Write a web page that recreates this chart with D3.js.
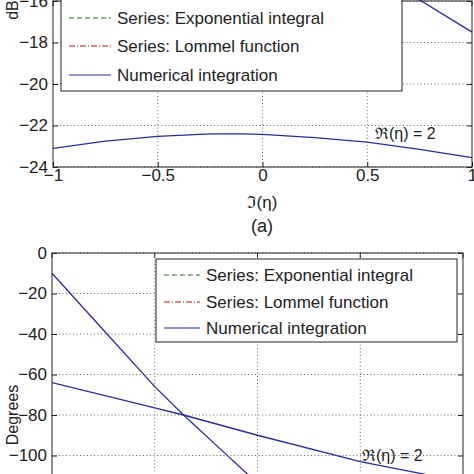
<!DOCTYPE html><html><head><script src="https://cdn.jsdelivr.net/npm/d3@7"></script>
<style>body{margin:0;background:#fff}text{font-family:Arial,"Liberation Sans",sans-serif}</style></head><body>
<svg id="c" width="474" height="474"></svg>
<script>
const xTicks=[-1,-0.5,0,0.5,1];
const xTickLabels=["−1","−0.5","0","0.5","1"];
const topYTicks=[-24,-22,-20,-18,-16];
const botYTicks=[-100,-80,-60,-40,-20,0];
const legendLabels=["Series: Exponential integral","Series: Lommel function","Numerical integration"];
// top panel (dB)
const topCurveX=[-1,-0.75,-0.5,-0.25,-0.1,0,0.25,0.5,0.75,1];
const topCurveY=[-23.1,-22.75,-22.52,-22.4,-22.4,-22.43,-22.58,-22.8,-23.15,-23.55];
const topCurve2X=[0.6,0.75,1];
const topCurve2Y=[-15.0,-15.95,-17.5];
// bottom panel (Degrees)
const botCurve1X=[-1,-0.75,-0.5,-0.36,-0.2,-0.04,0.1];
const botCurve1Y=[-10,-38,-66,-80,-95,-110,-123];
const botCurve2X=[-1,-0.5,-0.36,0,0.5,0.85,1];
const botCurve2Y=[-64,-76.5,-80,-90,-103,-110,-114];

const svg=d3.select("#c");
const blue="#2b2b9a";
function panel(o){
  const g=svg.append("g");
  const x=d3.scaleLinear().domain([-1,1]).range([o.x0,o.x1]);
  const y=d3.scaleLinear().domain(o.yd).range(o.yr);
  const id="clip"+o.id;
  svg.append("clipPath").attr("id",id).append("rect").attr("x",o.x0).attr("y",Math.min(...o.yr)).attr("width",o.x1-o.x0).attr("height",Math.abs(o.yr[1]-o.yr[0]));
  g.selectAll(".gx").data(xTicks.slice(1,-1)).join("line").attr("x1",x).attr("x2",x).attr("y1",o.yr[0]).attr("y2",o.yr[1]).attr("stroke","#666").attr("stroke-dasharray","1,2.5");
  g.selectAll(".gy").data(o.yt).join("line").attr("x1",o.x0).attr("x2",o.x1).attr("y1",y).attr("y2",y).attr("stroke","#666").attr("stroke-dasharray","1,2.5");
  const line=d3.line().x(d=>x(d[0])).y(d=>y(d[1]));
  const cg=g.append("g").attr("clip-path",`url(#${id})`);
  o.curves.forEach(c=>cg.append("path").attr("d",line(c[0].map((v,i)=>[v,c[1][i]]))).attr("fill","none").attr("stroke",blue).attr("stroke-width",1.3));
  g.append("rect").attr("x",o.x0).attr("y",Math.min(...o.yr)).attr("width",o.x1-o.x0).attr("height",Math.abs(o.yr[1]-o.yr[0])).attr("fill","none").attr("stroke","#222").attr("stroke-width",1);
  const ya=g.append("g").attr("transform",`translate(${o.x0},0)`).call(d3.axisLeft(y).tickValues(o.yt).tickSize(-5).tickPadding(5).tickFormat(d=>d<0?"−"+Math.abs(d):d));
  ya.select(".domain").remove();ya.selectAll("text").attr("font-size",17).attr("fill","#222").attr("font-family","Arial");ya.selectAll("line").attr("stroke","#222");
  const ya2=g.append("g").attr("transform",`translate(${o.x1},0)`).call(d3.axisRight(y).tickValues(o.yt).tickSize(-5).tickFormat(""));
  ya2.select(".domain").remove();ya2.selectAll("line").attr("stroke","#222");
  if(o.xAxis){const xa=g.append("g").attr("transform",`translate(0,${o.yr[0]})`).call(d3.axisBottom(x).tickValues(xTicks).tickSize(-5).tickPadding(2).tickFormat((d,i)=>xTickLabels[i]));
    xa.select(".domain").remove();xa.selectAll("text").attr("font-size",17).attr("fill","#222").attr("font-family","Arial");xa.selectAll("line").attr("stroke","#222");}
  g.selectAll(".tx").data(xTicks).join("line").attr("x1",x).attr("x2",x).attr("y1",Math.min(...o.yr)).attr("y2",Math.min(...o.yr)+5).attr("stroke","#222");
  const L=o.leg;
  g.append("rect").attr("x",L.x).attr("y",L.y).attr("width",L.w).attr("height",L.h).attr("fill","#fff").attr("stroke","#222");
  const styles=[{c:"#2a6a2a",d:"5,3"},{c:"#a02020",d:"6,2,1,2"},{c:blue,d:null}];
  legendLabels.forEach((t,i)=>{const yy=L.ly[i];
    g.append("line").attr("x1",L.x+8).attr("x2",L.tx-6).attr("y1",yy).attr("y2",yy).attr("stroke",styles[i].c).attr("stroke-width",1.2).attr("stroke-dasharray",styles[i].d);
    g.append("text").attr("x",L.tx).attr("y",yy+6).attr("font-size",17).attr("fill","#222").text(t);});
  g.append("text").attr("x",o.ann[0]).attr("y",o.ann[1]).attr("font-size",16).attr("fill","#222").html('<tspan font-family="DejaVu Serif">ℜ</tspan>(η) = 2');
  return {x,y};
}
panel({id:1,x0:53,x1:472,yd:[-24,-16],yr:[167,1],yt:topYTicks,xAxis:true,
  curves:[[topCurveX,topCurveY],[topCurve2X,topCurve2Y]],
  leg:{x:61,y:-20,w:341,h:111,ly:[18,46,75],tx:117},ann:[375,139]});
svg.select("clipPath#clip1 rect").attr("y",-30).attr("height",197);
panel({id:2,x0:52,x1:463,yd:[-120,0],yr:[496,253],yt:botYTicks,xAxis:false,
  curves:[[botCurve1X,botCurve1Y],[botCurve2X,botCurve2Y]],
  leg:{x:156,y:259,w:301,h:83,ly:[275,302,328],tx:206},ann:[362,461]});
svg.append("text").attr("x",262).attr("y",208).attr("text-anchor","middle").attr("font-size",17).attr("fill","#222").html('<tspan font-family="DejaVu Serif">ℑ</tspan>(η)');
svg.append("text").attr("x",262).attr("y",232).attr("text-anchor","middle").attr("font-size",18).attr("font-family","Liberation Serif").attr("fill","#222").text("(a)");
svg.append("text").attr("transform","translate(18,415) rotate(-90)").attr("text-anchor","middle").attr("font-size",16).attr("fill","#222").text("Degrees");
svg.append("text").attr("transform","translate(18,10) rotate(-90)").attr("text-anchor","middle").attr("font-size",16).attr("fill","#222").text("dB");
</script></body></html>
